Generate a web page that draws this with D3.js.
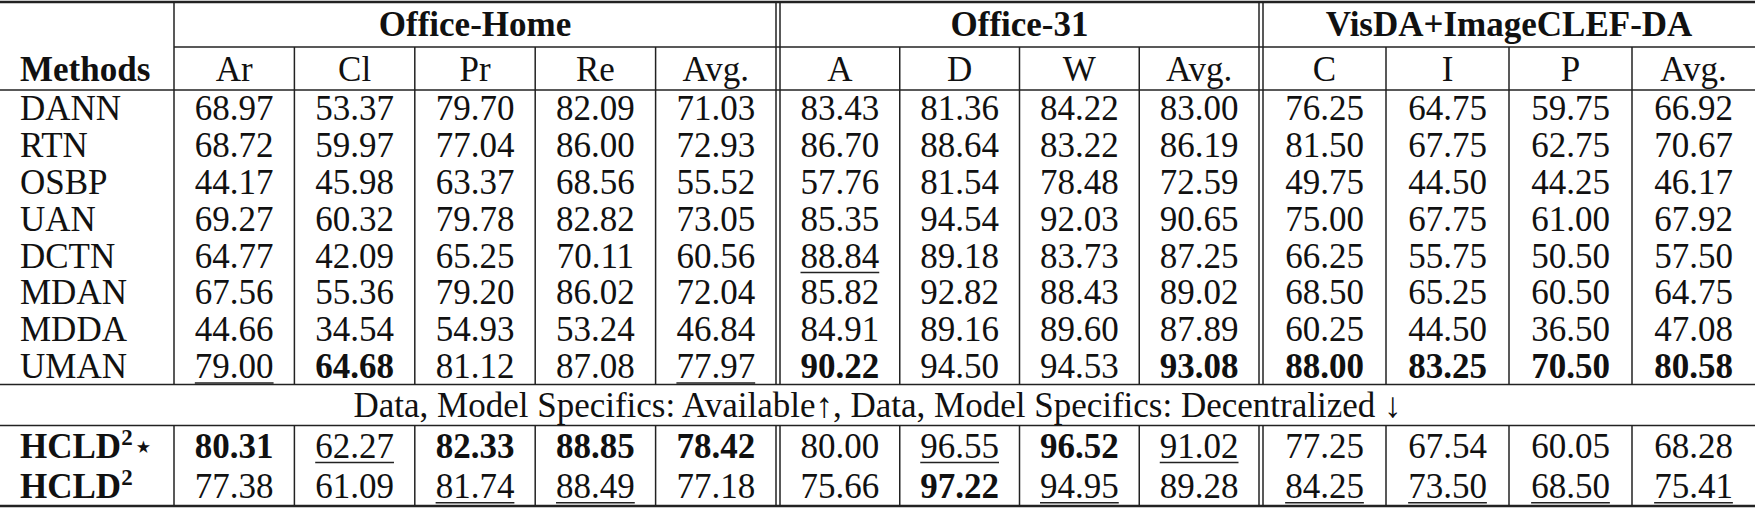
<!DOCTYPE html>
<html>
<head>
<meta charset="utf-8">
<script src="https://cdn.jsdelivr.net/npm/d3@7"></script>
<style>
  body { margin: 0; background: #fff; }
  text { font-family: "Liberation Serif", "Times New Roman", serif; fill: #111; }
</style>
</head>
<body>
<svg id="chart" width="1755" height="509"></svg>
<script>
// groups and their sub columns
const groups = ["Office-Home", "Office-31", "VisDA+ImageCLEF-DA"];
const columns = [
  ["Ar", "Cl", "Pr", "Re", "Avg."],
  ["A", "D", "W", "Avg."],
  ["C", "I", "P", "Avg."]
];

const methods = ["DANN", "RTN", "OSBP", "UAN", "DCTN", "MDAN", "MDDA", "UMAN"];
const ours = ["HCLD2star", "HCLD2"];
const separatorText = "Data, Model Specifics: Available\u2191, Data, Model Specifics: Decentralized \u2193";

// values per row: Office-Home | Office-31 | VisDA
const officeHome = [
  [68.97, 53.37, 79.70, 82.09, 71.03],
  [68.72, 59.97, 77.04, 86.00, 72.93],
  [44.17, 45.98, 63.37, 68.56, 55.52],
  [69.27, 60.32, 79.78, 82.82, 73.05],
  [64.77, 42.09, 65.25, 70.11, 60.56],
  [67.56, 55.36, 79.20, 86.02, 72.04],
  [44.66, 34.54, 54.93, 53.24, 46.84],
  [79.00, 64.68, 81.12, 87.08, 77.97],
  [80.31, 62.27, 82.33, 88.85, 78.42],
  [77.38, 61.09, 81.74, 88.49, 77.18]
];
const office31 = [
  [83.43, 81.36, 84.22, 83.00],
  [86.70, 88.64, 83.22, 86.19],
  [57.76, 81.54, 78.48, 72.59],
  [85.35, 94.54, 92.03, 90.65],
  [88.84, 89.18, 83.73, 87.25],
  [85.82, 92.82, 88.43, 89.02],
  [84.91, 89.16, 89.60, 87.89],
  [90.22, 94.50, 94.53, 93.08],
  [80.00, 96.55, 96.52, 91.02],
  [75.66, 97.22, 94.95, 89.28]
];
const visda = [
  [76.25, 64.75, 59.75, 66.92],
  [81.50, 67.75, 62.75, 70.67],
  [49.75, 44.50, 44.25, 46.17],
  [75.00, 67.75, 61.00, 67.92],
  [66.25, 55.75, 50.50, 57.50],
  [68.50, 65.25, 60.50, 64.75],
  [60.25, 44.50, 36.50, 47.08],
  [88.00, 83.25, 70.50, 80.58],
  [77.25, 67.54, 60.05, 68.28],
  [84.25, 73.50, 68.50, 75.41]
];
// b = bold (best), u = underline (second best)
const officeHomeMarks = [
  "-----", "-----", "-----", "-----", "-----", "-----", "-----",
  "ub--u", "bubbb", "--uu-"
];
const office31Marks = [
  "----", "----", "----", "----", "u---", "----", "----",
  "b--b", "-ubu", "-bu-"
];
const visdaMarks = [
  "----", "----", "----", "----", "----", "----", "----",
  "bbbb", "----", "uuuu"
];
const values = [officeHome, office31, visda];
const marks = [officeHomeMarks, office31Marks, visdaMarks];

const svg = d3.select("#chart");
const W = 1755;
const fs = 35;

// layout
const leftW = 174;
const groupStarts = [174, 780, 1263];
const groupEnds = [776, 1259, 1755];
const xScales = columns.map((cols, g) =>
  d3.scaleBand().domain(cols).range([groupStarts[g], groupEnds[g]]));

const yTop = 2, yGroup = 47, yHead = 90, rowH = 36.8;
const rowY = d3.scaleBand().domain(d3.range(8)).range([yHead, yHead + 8 * rowH]);
const ySep1 = yHead + 8 * rowH;
const ySep2 = ySep1 + 41;
const oursY = d3.scaleBand().domain(d3.range(2)).range([ySep2, 506]);
const yBottom = 506;

const line = (x1, y1, x2, y2, w) => svg.append("line")
  .attr("x1", x1).attr("y1", y1).attr("x2", x2).attr("y2", y2)
  .attr("stroke", "#222").attr("stroke-width", w || 1.5);

// horizontal rules
line(0, yTop, W, yTop, 2.5);
line(leftW, yGroup, W, yGroup);
line(0, yHead, W, yHead);
line(0, ySep1, W, ySep1);
line(0, ySep2, W, ySep2);
line(0, yBottom, W, yBottom, 2.5);

// vertical rules
const blocks = [[yTop, ySep1], [ySep2, yBottom]];
blocks.forEach(([a, b]) => {
  line(leftW, a, leftW, b);
  line(groupEnds[0], a, groupEnds[0], b);
  line(groupStarts[1], a, groupStarts[1], b);
  line(groupEnds[1], a, groupEnds[1], b);
  line(groupStarts[2], a, groupStarts[2], b);
  columns.forEach((cols, g) => cols.slice(1).forEach(c =>
    line(xScales[g](c), a === yTop ? yGroup : a, xScales[g](c), b)));
});

// headers
svg.append("text").attr("x", 20).attr("y", (yGroup + yHead) / 2 + 12)
  .attr("font-size", fs).attr("font-weight", "bold").text("Methods");
groups.forEach((g, i) => {
  svg.append("text").attr("x", (groupStarts[i] + groupEnds[i]) / 2).attr("y", yGroup - 11)
    .attr("text-anchor", "middle").attr("font-size", fs).attr("font-weight", "bold").text(g);
  columns[i].forEach(c => {
    svg.append("text").attr("x", xScales[i](c) + xScales[i].bandwidth() / 2)
      .attr("y", (yGroup + yHead) / 2 + 12)
      .attr("text-anchor", "middle").attr("font-size", fs).text(c);
  });
});

function drawCell(x, y, txt, mark) {
  const t = svg.append("text").attr("x", x).attr("y", y)
    .attr("text-anchor", "middle").attr("font-size", fs).text(txt);
  if (mark === "b") t.attr("font-weight", "bold");
  if (mark === "u") {
    const w = t.node().getComputedTextLength();
    line(x - w / 2, y + 5, x + w / 2, y + 5, 1.5);
  }
}

function drawRow(r, yc) {
  columns.forEach((cols, g) => cols.forEach((c, j) => {
    drawCell(xScales[g](c) + xScales[g].bandwidth() / 2, yc + 12,
      values[g][r][j].toFixed(2), marks[g][r][j]);
  }));
}

methods.forEach((m, i) => {
  const yc = rowY(i) + rowY.bandwidth() / 2;
  svg.append("text").attr("x", 20).attr("y", yc + 12).attr("font-size", fs).text(m);
  drawRow(i, yc);
});

svg.append("text").attr("x", W / 2).attr("y", (ySep1 + ySep2) / 2 + 12)
  .attr("text-anchor", "middle").attr("font-size", fs).text(separatorText);

ours.forEach((m, i) => {
  const yc = oursY(i) + oursY.bandwidth() / 2;
  const t = svg.append("text").attr("x", 20).attr("y", yc + 12)
    .attr("font-size", fs).attr("font-weight", "bold");
  t.append("tspan").text("HCLD");
  t.append("tspan").attr("font-size", 23).attr("dy", -13).text("2");
  if (m === "HCLD2star") {
    t.append("tspan").attr("font-size", 34).attr("font-weight", "normal")
      .attr("font-family", "DejaVu Sans").attr("dy", 13).text("\u22c6");
  }
  drawRow(methods.length + i, yc);
});
</script>
</body>
</html>
